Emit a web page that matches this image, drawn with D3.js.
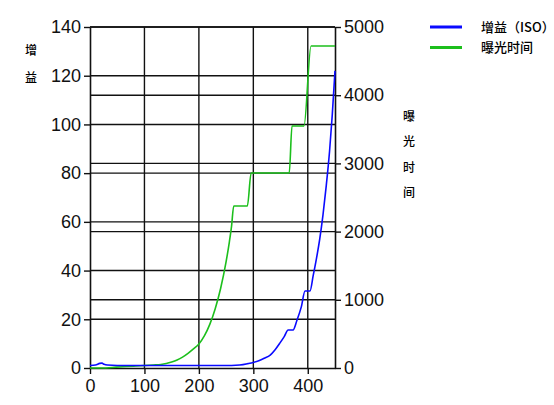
<!DOCTYPE html>
<html>
<head>
<meta charset="utf-8">
<script src="https://cdn.jsdelivr.net/npm/d3@7"></script>
<style>
    body { margin: 0; background: #fff; }
    .tick-label { font-family: 'Liberation Sans', Arial, sans-serif; font-size: 18px; fill: #111; }
    .cjk { font-family: 'Noto Sans CJK SC', sans-serif; font-size: 12px; font-weight: 500; fill: #000; }
</style>
</head>
<body>
<div id="chart"></div>
<script>
// Data
const xTicks = [0, 100, 200, 300, 400];
const gainTicks = [0, 20, 40, 60, 80, 100, 120, 140];
const exposureTicks = [0, 1000, 2000, 3000, 4000, 5000];

// 增益 (left axis), [frame, value]
const gainSeries = [
    [0, 1], [10, 1.2], [18, 1.9], [22, 2], [26, 1.5], [32, 1.2], [50, 1], [100, 1],
    [200, 1], [260, 1], [275, 1.2], [290, 1.8], [300, 2.3], [310, 3], [320, 4],
    [331, 5.3], [340, 7.5], [349, 10.3], [357, 13], [364, 15.6], [373, 15.6],
    [380, 19.5], [388, 25], [395, 31.6], [404, 31.6], [410, 38], [416, 45],
    [422, 53], [428, 63], [434, 75], [440, 89], [445, 104], [450, 122]
];

// 曝光时间 (right axis), [frame, value]
const exposureSeries = [
    [0, 0], [25, 0], [40, 8], [60, 18], [80, 27], [100, 36], [116, 45], [130, 52],
    [140, 66], [150, 88], [160, 118], [170, 160], [180, 215], [190, 280], [200, 352],
    [210, 470], [220, 640], [230, 870], [240, 1170], [250, 1560], [256, 1850],
    [260, 2080], [264, 2375], [289, 2375], [296, 2860], [366, 2860], [371, 3548],
    [393, 3548], [406, 4721], [450, 4721]
];

const seriesNames = ['增益（ISO）', '曝光时间'];
const seriesColors = ['#0a0aff', '#1cbf1c'];

const width = 554, height = 405;
const plot = { left: 90, right: 335, top: 27, bottom: 368 };

const svg = d3.select('#chart')
    .append('svg')
    .attr('width', width)
    .attr('height', height);

const x = d3.scaleLinear().domain([0, 450]).range([plot.left, plot.right]);
const yGain = d3.scaleLinear().domain([0, 140]).range([plot.bottom, plot.top]);
const yExp = d3.scaleLinear().domain([0, 5000]).range([plot.bottom, plot.top]);

// Grid lines
const grid = svg.append('g').attr('stroke', '#111').attr('stroke-width', 1.4);
grid.selectAll('.vg').data(xTicks.slice(1)).enter().append('line')
    .attr('x1', d => x(d)).attr('x2', d => x(d))
    .attr('y1', plot.top).attr('y2', plot.bottom);
grid.selectAll('.hg').data(gainTicks.slice(1)).enter().append('line')
    .attr('x1', plot.left).attr('x2', plot.right)
    .attr('y1', d => yGain(d)).attr('y2', d => yGain(d));
grid.selectAll('.he').data(exposureTicks.slice(1)).enter().append('line')
    .attr('x1', plot.left).attr('x2', plot.right)
    .attr('y1', d => yExp(d)).attr('y2', d => yExp(d));

// Axes
const styleAxis = g => {
    g.select('.domain').attr('stroke', '#111').attr('stroke-width', 1.6);
    g.selectAll('.tick line').attr('stroke', '#111').attr('stroke-width', 1.4);
    g.selectAll('.tick text').attr('class', 'tick-label').attr('fill', null);
    g.attr('font-family', null).attr('font-size', null);
};

svg.append('g')
    .attr('transform', `translate(${plot.left},0)`)
    .call(d3.axisLeft(yGain).tickValues(gainTicks).tickSize(6).tickPadding(3).tickSizeOuter(0))
    .call(styleAxis);

svg.append('g')
    .attr('transform', `translate(${plot.right},0)`)
    .call(d3.axisRight(yExp).tickValues(exposureTicks).tickFormat(d3.format('d'))
        .tickSize(6).tickPadding(3).tickSizeOuter(0))
    .call(styleAxis);

svg.append('g')
    .attr('transform', `translate(0,${plot.bottom})`)
    .call(d3.axisBottom(x).tickValues(xTicks).tickSize(6).tickPadding(5).tickSizeOuter(0))
    .call(styleAxis);

// Lines
const gainLine = d3.line().curve(d3.curveMonotoneX).x(d => x(d[0])).y(d => yGain(d[1]));
const expLine = d3.line().curve(d3.curveMonotoneX).x(d => x(d[0])).y(d => yExp(d[1]));

svg.append('path')
    .datum(exposureSeries)
    .attr('d', expLine)
    .attr('fill', 'none')
    .attr('stroke', seriesColors[1])
    .attr('stroke-width', 1.6);

svg.append('path')
    .datum(gainSeries)
    .attr('d', gainLine)
    .attr('fill', 'none')
    .attr('stroke', seriesColors[0])
    .attr('stroke-width', 1.6);

// Axis titles, stacked characters
const verticalTitle = (text, cx, cy0, step) => {
    svg.selectAll(null).data(Array.from(text)).enter().append('text')
        .attr('class', 'cjk')
        .attr('x', cx)
        .attr('y', (d, i) => cy0 + i * step)
        .attr('text-anchor', 'middle')
        .attr('dominant-baseline', 'central')
        .text(d => d);
};
verticalTitle('增益', 31, 49, 27);
verticalTitle('曝光时间', 409, 115, 25.5);

// Legend
const legend = svg.append('g').attr('transform', 'translate(430,27)');
const items = legend.selectAll('.legend-item')
    .data(seriesNames)
    .enter()
    .append('g')
    .attr('transform', (d, i) => `translate(0,${i * 20.5})`);

items.append('line')
    .attr('x1', 0).attr('x2', 32)
    .attr('y1', 0).attr('y2', 0)
    .attr('stroke', (d, i) => seriesColors[i])
    .attr('stroke-width', 3);

items.append('text')
    .attr('class', 'cjk')
    .attr('x', 51)
    .attr('y', -1)
    .style('font-size', '13px')
    .attr('dominant-baseline', 'central')
    .text(d => d);
</script>
</body>
</html>
